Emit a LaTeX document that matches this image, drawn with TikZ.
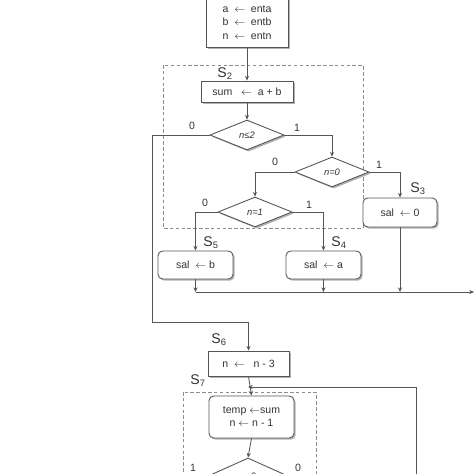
\documentclass[tikz,border=0pt]{standalone}
\usepackage{fontspec}
\setmainfont{Liberation Sans}
\usetikzlibrary{shapes.geometric,shadows,arrows.meta}
\definecolor{linegray}{HTML}{555555}
\definecolor{textgray}{HTML}{333333}
\definecolor{dashgray}{HTML}{8C8C8C}
\def\u{0.03cm}
\newcommand{\getsarrow}{\ensuremath{\leftarrow}}
\tikzset{
    box/.style={draw=linegray, fill=white, line width=0.75pt, inner sep=0pt, text=textgray,
        font=\fontsize{9}{11.5}\selectfont,
        drop shadow={shadow xshift=1.4pt, shadow yshift=-1.4pt, fill=gray!60, opacity=1}},
    rbox/.style={box, rounded corners=4pt},
    test/.style={diamond, draw=linegray, fill=white, line width=0.75pt, inner sep=0pt, text=textgray,
        font=\itshape\fontsize{8}{9}\selectfont, minimum width=74*\u, minimum height=30*\u,
        drop shadow={shadow xshift=1.4pt, shadow yshift=-1.4pt, fill=gray!60, opacity=1}},
    region/.style={draw=dashgray, line width=0.55pt, dash pattern=on 3pt off 2pt},
    lbl/.style={text=textgray, font=\fontsize{9}{10}\selectfont},
    slabel/.style={text=textgray, font=\fontsize{12}{13}\selectfont},
    flow/.style={draw=linegray, line width=0.7pt}
}
\begin{document}
\begin{tikzpicture}[x=0.03cm, y=-0.03cm, >={Stealth[length=4pt,width=3.5pt]}]
\useasboundingbox (0,0) rectangle (474,474);
\clip (0,0) rectangle (474,474);
% dashed regions
\draw[region] (163,65) rectangle (363,228);
\draw[region] (183,392) rectangle (316,490);
% blocks
\node[box, minimum width=82*\u, minimum height=49*\u, align=center] (inp) at (247,22.5)
    {a \ \getsarrow\ \ enta\\b \ \getsarrow\ \ entb\\n \ \getsarrow\ \ entn};
\node[box, minimum width=92*\u, minimum height=21*\u] (sum) at (247,91.5) {sum \ \ \getsarrow\ \ a + b};
\node[test] (t2) at (247,135) {n≤2};
\node[test] (t0) at (332,172) {n=0};
\node[test] (t1) at (255,212) {n=1};
\node[rbox, minimum width=74*\u, minimum height=29*\u] (s3) at (400,212.5) {sal \ \getsarrow\ 0};
\node[rbox, minimum width=75*\u, minimum height=28*\u] (s5) at (195.5,265) {sal \ \getsarrow\ b};
\node[rbox, minimum width=75*\u, minimum height=28*\u] (s4) at (323.5,265) {sal \ \getsarrow\ a};
\node[box, minimum width=81*\u, minimum height=25*\u] (s6) at (248.5,363.5) {n \ \getsarrow\ \ \ n - 3};
\node[rbox, minimum width=85*\u, minimum height=42*\u, align=center, font=\fontsize{9}{11}\selectfont] (s7) at (251.5,417)
    {temp \getsarrow sum\\n \getsarrow\ n - 1};
\node[test, minimum width=80*\u, minimum height=36*\u] (t8) at (248,476) {n=0};
% step labels
\node[slabel] at (225,74) {S\textsubscript{2}};
\node[slabel] at (418,189) {S\textsubscript{3}};
\node[slabel] at (339,243) {S\textsubscript{4}};
\node[slabel] at (211,243) {S\textsubscript{5}};
\node[slabel] at (219,340) {S\textsubscript{6}};
\node[slabel] at (198,381) {S\textsubscript{7}};
% branch labels
\node[lbl] at (192,126) {0};
\node[lbl] at (297,128) {1};
\node[lbl] at (275,162) {0};
\node[lbl] at (379,165) {1};
\node[lbl] at (205,203) {0};
\node[lbl] at (309,205) {1};
\node[lbl] at (193,468) {1};
\node[lbl] at (298,468) {0};
% connectors
\coordinate (lft) at (152,322);
\coordinate (mrg) at (195,292);
\coordinate (out) at (474,292);
\coordinate (back) at (416,490);
\coordinate (join) at (248,387);
\draw[flow,->] (inp.south) -- (sum.north);
\draw[flow,->] (sum.south) -- (t2.north);
\draw[flow,->] (t2.west) -| (lft) -| (s6.north);
\draw[flow,->] (t2.east) -| (t0.north);
\draw[flow,->] (t0.west) -| (t1.north);
\draw[flow,->] (t0.east) -| (s3.north);
\draw[flow,->] (t1.west) -| (s5.north);
\draw[flow,->] (t1.east) -| (s4.north);
\draw[flow,->] (s5.south) -- (s5.south |- mrg);
\draw[flow,->] (s4.south) -- (s4.south |- mrg);
\draw[flow,->] (s3.south) -- (s3.south |- mrg);
\draw[flow,->] (s5.south |- mrg) -- (out);
\draw[flow,->] (s6.south) -- (s7.north);
\draw[flow,->] (back) |- (join);
\draw[flow,->] (s7.south) -- (t8.north);
\end{tikzpicture}
\end{document}
